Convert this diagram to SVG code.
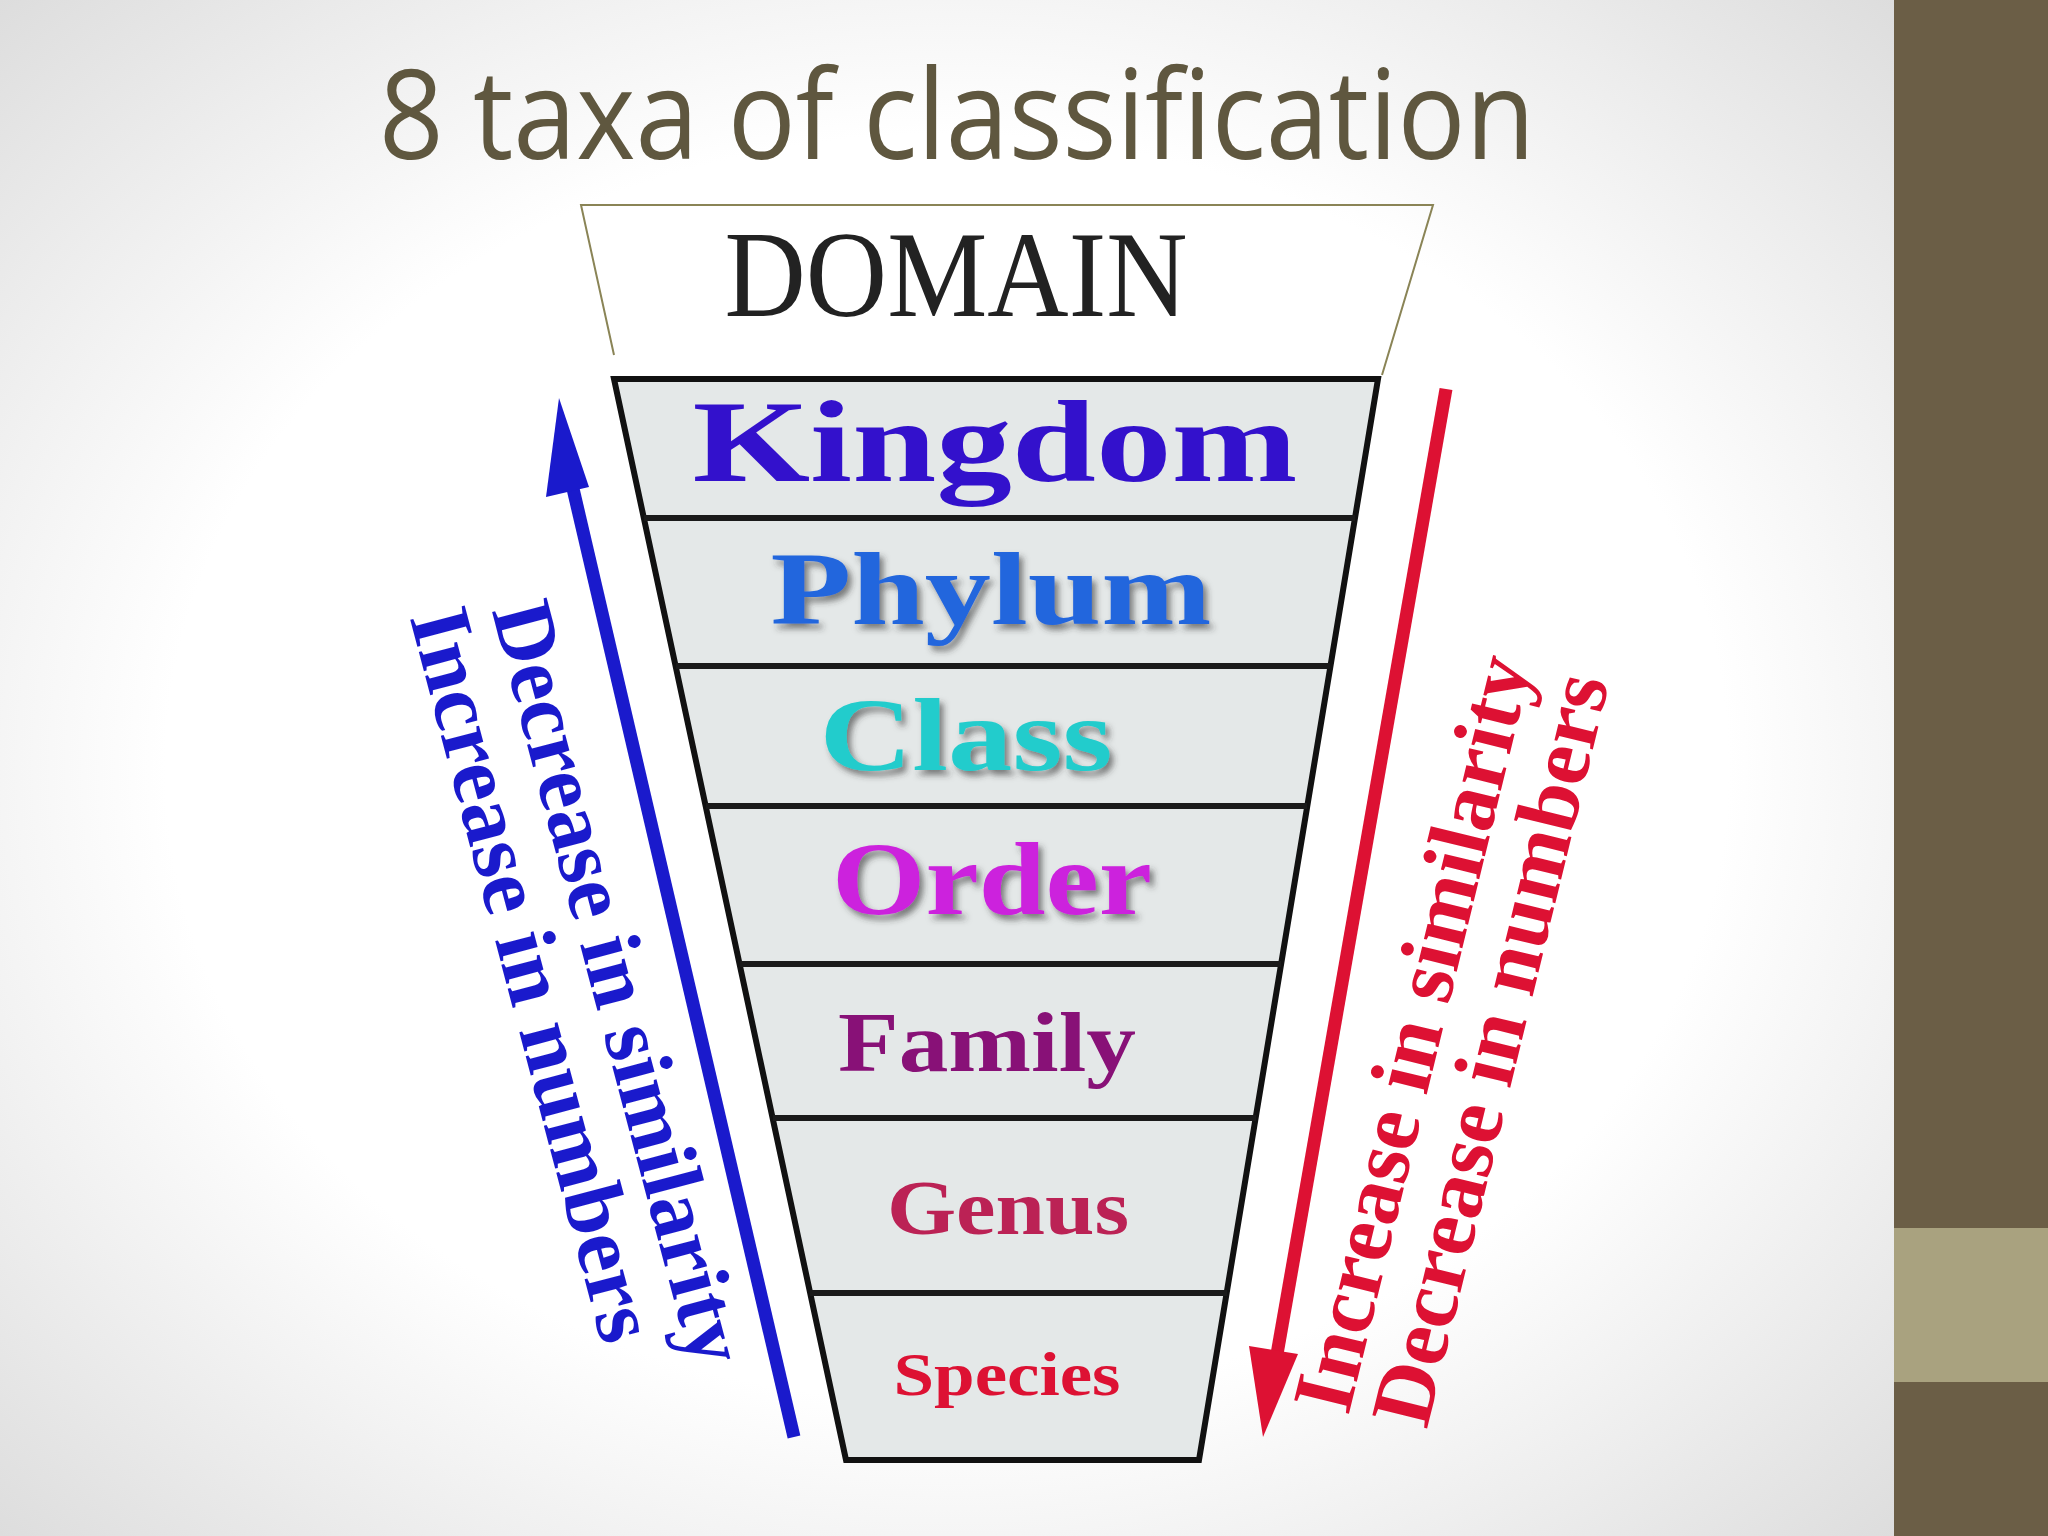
<svg xmlns="http://www.w3.org/2000/svg" width="2048" height="1536" viewBox="0 0 2048 1536">
<defs>
<radialGradient id="bg" cx="0.5" cy="0.5" r="0.75">
<stop offset="0.55" stop-color="#ffffff"/><stop offset="1" stop-color="#d8d8d8"/>
</radialGradient>
<filter id="sh" x="-10%" y="-10%" width="130%" height="140%"><feDropShadow dx="4" dy="5" stdDeviation="3" flood-color="#333" flood-opacity="0.6"/></filter>
</defs>
<style>
.lbl{font-family:"Liberation Serif",serif;font-weight:bold;text-anchor:middle}
.side{font-family:"Liberation Serif",serif;font-weight:bold;font-size:86px;text-anchor:middle}
.div{stroke:#1a1a1a;stroke-width:6}
</style>
<rect width="1894" height="1536" fill="url(#bg)"/>
<rect x="1894" y="0" width="154" height="1536" fill="#6b5e46"/>
<rect x="1894" y="1228" width="154" height="154" fill="#a9a27f"/>
<text x="957" y="159" font-family="Open Sans, sans-serif" font-size="124" fill="#5f573f" text-anchor="middle" textLength="1156" lengthAdjust="spacingAndGlyphs">8 taxa of classification</text>
<g id="domain">
<path d="M614,355 L581,205 L1433,205 L1382,375" fill="none" stroke="#8a8456" stroke-width="2"/>
<text x="956" y="316" font-family="Liberation Serif, serif" font-size="122" fill="#222" text-anchor="middle" textLength="463" lengthAdjust="spacingAndGlyphs">DOMAIN</text>
</g>
<g id="funnel">
<path d="M614,379 L1378,379 L1199,1460 L846,1460 Z" fill="#e4e8e8" stroke="#111" stroke-width="6"/>
<line class="div" x1="644" y1="518" x2="1355" y2="518"/>
<line class="div" x1="676" y1="666" x2="1330" y2="666"/>
<line class="div" x1="706" y1="806" x2="1307" y2="806"/>
<line class="div" x1="740" y1="964" x2="1281" y2="964"/>
<line class="div" x1="773" y1="1118" x2="1256" y2="1118"/>
<line class="div" x1="810" y1="1293" x2="1227" y2="1293"/>
</g>
<g id="kingdom"><text class="lbl" x="995" y="481" font-size="116" fill="#3311cc" textLength="605" lengthAdjust="spacingAndGlyphs">Kingdom</text></g>
<g id="phylum"><text class="lbl" x="991" y="624" font-size="104" fill="#2266dd" filter="url(#sh)" textLength="441" lengthAdjust="spacingAndGlyphs">Phylum</text></g>
<g id="class"><text class="lbl" x="966" y="770" font-size="104" fill="#22cccc" filter="url(#sh)" textLength="293" lengthAdjust="spacingAndGlyphs">Class</text></g>
<g id="order"><text class="lbl" x="992" y="914" font-size="104" fill="#cc22dd" filter="url(#sh)" textLength="320" lengthAdjust="spacingAndGlyphs">Order</text></g>
<g id="family"><text class="lbl" x="987" y="1071" font-size="84" fill="#881177" textLength="298" lengthAdjust="spacingAndGlyphs">Family</text></g>
<g id="genus"><text class="lbl" x="1008" y="1234" font-size="78" fill="#bb2255" textLength="242" lengthAdjust="spacingAndGlyphs">Genus</text></g>
<g id="species"><text class="lbl" x="1007" y="1395" font-size="62" fill="#dd1133" textLength="227" lengthAdjust="spacingAndGlyphs">Species</text></g>
<g id="connectors">
<line x1="794" y1="1437" x2="571" y2="480" stroke="#1a1acc" stroke-width="13"/>
<polygon points="559,398 589,487 546,497" fill="#1a1acc"/>
<line x1="1446" y1="389" x2="1276" y2="1360" stroke="#dd1133" stroke-width="13"/>
<polygon points="1263,1437 1249,1346 1298,1354" fill="#dd1133"/>
</g>
<g id="left-text" fill="#1a1acc">
<text class="side" transform="translate(592,990) rotate(75.2)" textLength="785" lengthAdjust="spacingAndGlyphs">Decrease in similarity</text>
<text class="side" transform="translate(506,982) rotate(75.2)" textLength="755" lengthAdjust="spacingAndGlyphs">Increase in numbers</text>
</g>
<g id="right-text" fill="#dd1133">
<text class="side" transform="translate(1440,1040) rotate(-76.3)" textLength="775" lengthAdjust="spacingAndGlyphs">Increase in similarity</text>
<text class="side" transform="translate(1518,1056) rotate(-76.3)" textLength="770" lengthAdjust="spacingAndGlyphs">Decrease in numbers</text>
</g>
</svg>
